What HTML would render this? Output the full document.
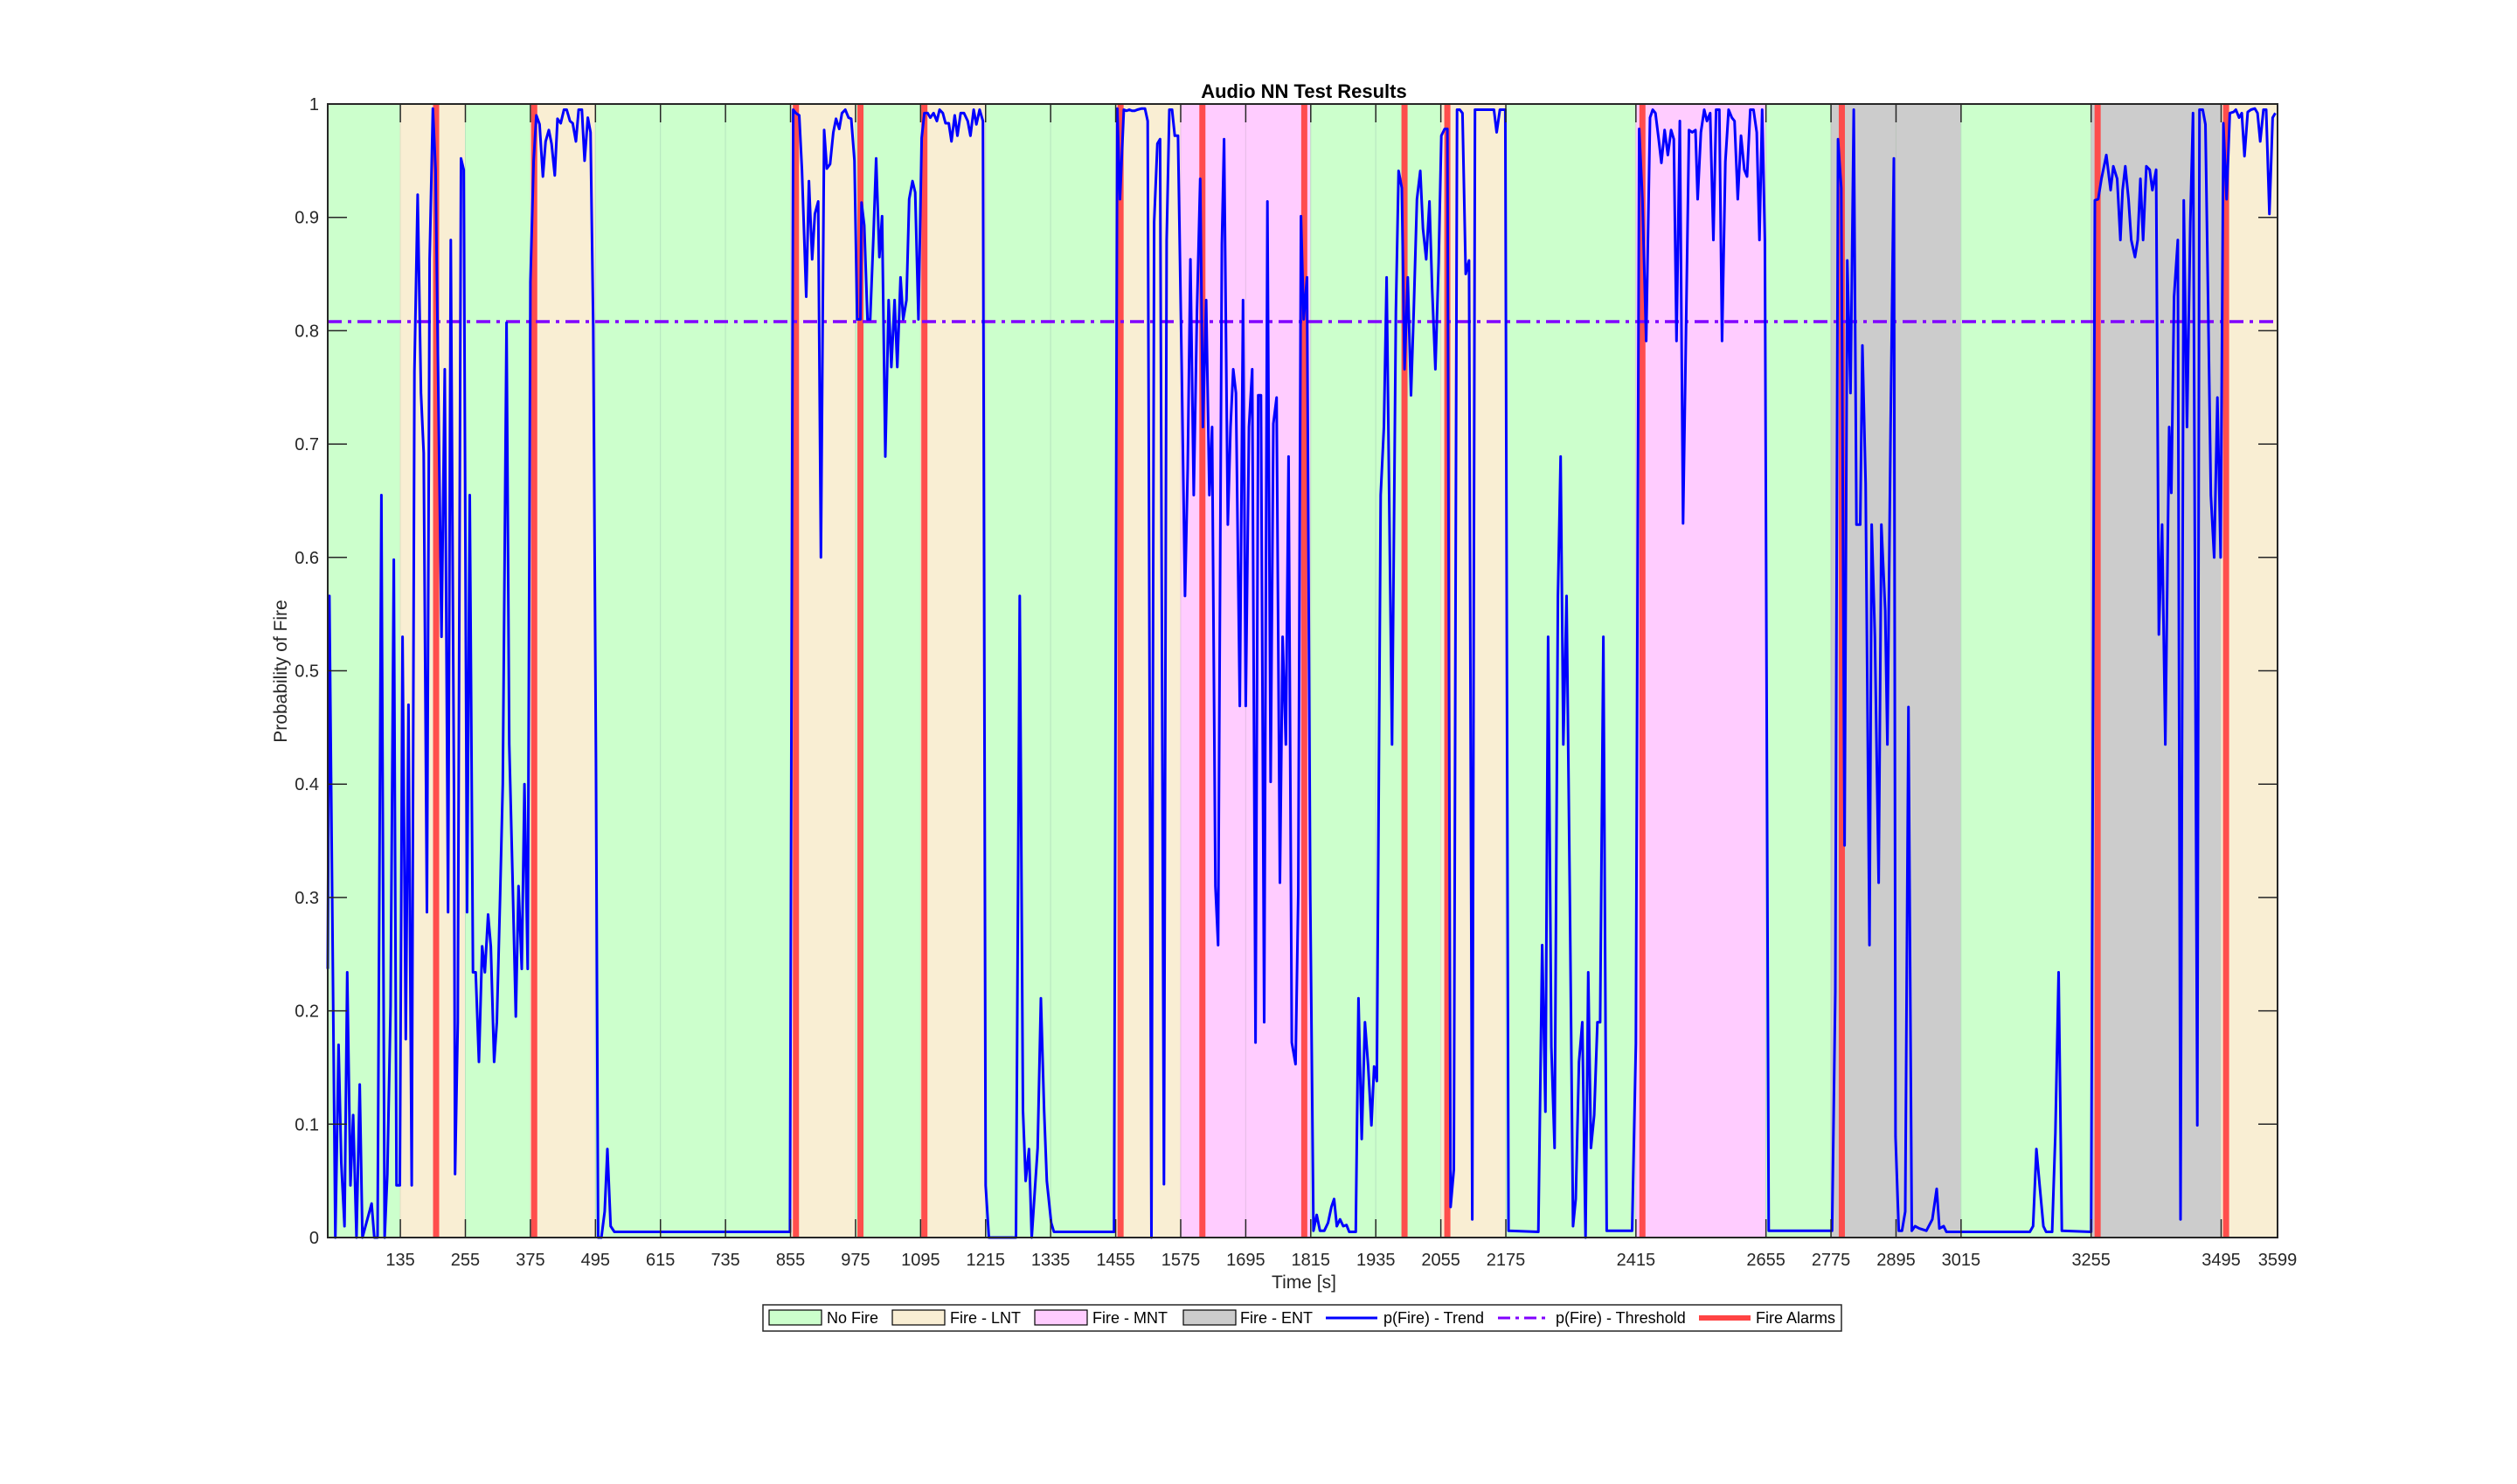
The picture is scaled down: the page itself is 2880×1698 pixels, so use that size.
<!DOCTYPE html>
<html><head><meta charset="utf-8">
<style>
html,body{margin:0;padding:0;background:#fff;}
svg{display:block;font-family:"Liberation Sans",Arial,sans-serif;}
</style></head>
<body>
<svg id="chart" width="2880" height="1698" viewBox="0 0 2880 1698" xmlns="http://www.w3.org/2000/svg">
<rect x="0" y="0" width="2880" height="1698" fill="#ffffff"/>
<g id="regions"></g>
<g id="alarms"></g>
<g id="threshold"></g>
<g id="trend"></g>
<g id="axes"></g>
<text x="1492" y="112" text-anchor="middle" font-size="22" font-weight="bold" fill="#000">Audio NN Test Results</text>
<text x="1492" y="1474" text-anchor="middle" font-size="21" fill="#262626">Time [s]</text>
<text transform="translate(328,768) rotate(-90)" text-anchor="middle" font-size="21" fill="#262626">Probability of Fire</text>
<g>
  <rect x="873" y="1493" width="1234" height="30" fill="#fff" stroke="#262626" stroke-width="1.5"/>
  <g>
    <rect x="880" y="1499" width="60" height="17" fill="#ccffcc" stroke="#000" stroke-width="1.2"/>
    <text x="946" y="1514" font-size="18" fill="#000">No Fire</text>
  </g>
  <g>
    <rect x="1021" y="1499" width="60" height="17" fill="#f9eed3" stroke="#000" stroke-width="1.2"/>
    <text x="1087" y="1514" font-size="18" fill="#000">Fire - LNT</text>
  </g>
  <g>
    <rect x="1184" y="1499" width="60" height="17" fill="#ffccff" stroke="#000" stroke-width="1.2"/>
    <text x="1250" y="1514" font-size="18" fill="#000">Fire - MNT</text>
  </g>
  <g>
    <rect x="1354" y="1499" width="60" height="17" fill="#cccccc" stroke="#000" stroke-width="1.2"/>
    <text x="1419" y="1514" font-size="18" fill="#000">Fire - ENT</text>
  </g>
  <g>
    <line x1="1517" y1="1508" x2="1576" y2="1508" stroke="#0000ff" stroke-width="3"/>
    <text x="1583" y="1514" font-size="18" fill="#000">p(Fire) - Trend</text>
  </g>
  <g>
    <line x1="1714" y1="1508" x2="1772" y2="1508" stroke="#8000ff" stroke-width="3" stroke-dasharray="14,6,4,6"/>
    <text x="1780" y="1514" font-size="18" fill="#000">p(Fire) - Threshold</text>
  </g>
  <g>
    <line x1="1944" y1="1508" x2="2003" y2="1508" stroke="#ff4444" stroke-width="6"/>
    <text x="2009" y="1514" font-size="18" fill="#000">Fire Alarms</text>
  </g>
</g>
</svg>
<script>
const regionStart = [1,135,255,375,495,615,735,855,975,1095,1215,1335,1455,1575,1695,1815,1935,2055,2175,2415,2655,2775,2895,3015,3255,3495];
const regionEnd   = [135,255,375,495,615,735,855,975,1095,1215,1335,1455,1575,1695,1815,1935,2055,2175,2415,2655,2775,2895,3015,3255,3495,3599];
const regionClass = ['No','LNT','No','LNT','No','No','No','LNT','No','LNT','No','No','LNT','MNT','MNT','No','No','LNT','No','MNT','No','ENT','ENT','No','ENT','LNT'];
const alarmTimes = [201,382,865,984,1102,1464,1615,1803,1988,2067,2427,2795,3267,3504];
const thresholdValue = 0.808;
const xTickLabels = [135,255,375,495,615,735,855,975,1095,1215,1335,1455,1575,1695,1815,1935,2055,2175,2415,2655,2775,2895,3015,3255,3495,3599];
const yTickLabels = [0,0.1,0.2,0.3,0.4,0.5,0.6,0.7,0.8,0.9,1];
const trendT = [1,4,15,21,26,32,37,43,48,54,60,65,82,87,93,100,106,111,117,123,128,134,139,145,150,156,161,167,173,178,184,189,195,200,206,211,217,223,228,234,236,241,247,252,258,263,269,274,280,286,291,297,302,308,313,319,324,331,336,342,348,353,359,364,370,375,381,386,392,398,403,409,414,420,425,431,437,442,448,453,459,464,470,475,481,486,491,496,500,506,512,517,523,530,854,860,865,871,876,884,889,895,900,906,911,917,922,928,934,939,945,950,956,962,967,973,978,984,986,991,997,1002,1008,1013,1019,1024,1030,1036,1041,1047,1052,1058,1063,1069,1074,1080,1085,1091,1097,1102,1108,1113,1119,1125,1130,1136,1141,1147,1152,1158,1163,1169,1175,1182,1187,1193,1198,1204,1210,1215,1221,1271,1278,1284,1289,1295,1300,1306,1311,1317,1323,1328,1336,1341,1452,1458,1463,1470,1475,1480,1485,1490,1495,1503,1509,1514,1521,1526,1532,1537,1544,1549,1554,1559,1564,1570,1577,1583,1588,1593,1599,1605,1611,1616,1622,1628,1633,1639,1644,1651,1655,1662,1667,1672,1677,1684,1690,1695,1701,1707,1713,1718,1723,1729,1735,1741,1746,1752,1758,1763,1769,1774,1780,1787,1792,1797,1802,1808,1814,1820,1826,1832,1840,1847,1853,1858,1863,1869,1875,1881,1886,1898,1903,1909,1915,1921,1927,1932,1937,1944,1950,1955,1965,1972,1977,1983,1988,1994,2000,2005,2011,2017,2022,2028,2034,2039,2045,2051,2056,2062,2067,2073,2079,2085,2090,2095,2101,2107,2113,2118,2153,2158,2164,2174,2180,2235,2242,2248,2253,2259,2265,2271,2276,2281,2287,2293,2299,2304,2310,2316,2322,2327,2332,2338,2344,2349,2355,2361,2408,2415,2421,2427,2434,2441,2446,2451,2457,2462,2468,2474,2480,2485,2490,2496,2502,2508,2513,2519,2525,2529,2535,2541,2546,2552,2558,2563,2569,2574,2580,2586,2592,2597,2603,2609,2615,2620,2626,2632,2638,2643,2648,2653,2660,2777,2783,2788,2794,2800,2805,2811,2817,2822,2829,2833,2839,2846,2850,2856,2863,2868,2875,2879,2885,2891,2894,2900,2906,2912,2918,2924,2930,2938,2951,2962,2970,2975,2983,2988,3142,3148,3154,3160,3167,3172,3183,3189,3195,3201,3255,3262,3268,3274,3283,3291,3296,3303,3309,3313,3318,3324,3329,3336,3341,3346,3351,3357,3363,3368,3375,3380,3386,3392,3399,3403,3408,3415,3420,3426,3432,3438,3443,3451,3455,3461,3466,3471,3476,3482,3488,3494,3499,3505,3511,3518,3522,3528,3533,3538,3544,3550,3557,3562,3567,3573,3578,3584,3590,3595];
const trendP = [0.237,0.566,0.0,0.17,0.066,0.01,0.234,0.046,0.108,0.0,0.135,0.0,0.03,0.0,0.0,0.655,0.0,0.056,0.204,0.598,0.046,0.046,0.53,0.175,0.47,0.046,0.764,0.92,0.745,0.692,0.287,0.863,0.996,0.942,0.712,0.53,0.766,0.287,0.88,0.389,0.056,0.19,0.952,0.942,0.287,0.655,0.234,0.234,0.155,0.257,0.234,0.285,0.257,0.155,0.19,0.30,0.40,0.807,0.435,0.32,0.195,0.31,0.237,0.40,0.237,0.843,0.95,0.99,0.982,0.936,0.967,0.977,0.965,0.937,0.987,0.983,0.995,0.995,0.985,0.983,0.967,0.995,0.995,0.95,0.988,0.975,0.804,0.422,0.0,0.0,0.023,0.078,0.01,0.005,0.005,0.995,0.992,0.99,0.942,0.83,0.932,0.863,0.903,0.914,0.6,0.977,0.943,0.947,0.975,0.987,0.978,0.992,0.995,0.988,0.987,0.95,0.81,0.81,0.913,0.893,0.81,0.81,0.883,0.952,0.865,0.901,0.689,0.827,0.768,0.827,0.768,0.847,0.81,0.827,0.916,0.932,0.922,0.81,0.97,0.992,0.992,0.988,0.992,0.985,0.995,0.992,0.983,0.983,0.967,0.99,0.972,0.992,0.992,0.985,0.972,0.995,0.982,0.995,0.985,0.046,0.0,0.0,0.566,0.112,0.05,0.078,0.0,0.043,0.079,0.211,0.112,0.05,0.013,0.005,0.005,0.996,0.916,0.995,0.994,0.995,0.994,0.994,0.995,0.996,0.996,0.985,0.0,0.896,0.965,0.969,0.047,0.88,0.995,0.995,0.972,0.972,0.764,0.566,0.679,0.863,0.655,0.817,0.934,0.715,0.827,0.655,0.715,0.31,0.258,0.876,0.969,0.629,0.715,0.766,0.745,0.469,0.827,0.469,0.715,0.766,0.172,0.743,0.743,0.19,0.914,0.402,0.718,0.741,0.313,0.53,0.435,0.689,0.172,0.153,0.303,0.901,0.81,0.847,0.303,0.006,0.02,0.006,0.006,0.013,0.027,0.034,0.01,0.016,0.01,0.011,0.005,0.005,0.211,0.087,0.19,0.151,0.099,0.151,0.138,0.655,0.715,0.847,0.435,0.817,0.941,0.926,0.766,0.847,0.743,0.817,0.916,0.941,0.89,0.863,0.914,0.837,0.766,0.86,0.972,0.978,0.978,0.027,0.06,0.995,0.995,0.992,0.85,0.862,0.016,0.995,0.995,0.975,0.995,0.995,0.006,0.005,0.258,0.111,0.53,0.168,0.079,0.566,0.689,0.435,0.566,0.303,0.01,0.034,0.155,0.19,0.0,0.234,0.079,0.108,0.19,0.19,0.53,0.006,0.006,0.171,0.978,0.916,0.791,0.988,0.995,0.992,0.969,0.948,0.977,0.955,0.977,0.969,0.791,0.985,0.63,0.817,0.977,0.975,0.977,0.916,0.975,0.995,0.985,0.992,0.88,0.995,0.995,0.791,0.949,0.995,0.988,0.985,0.916,0.972,0.942,0.936,0.995,0.995,0.975,0.88,0.995,0.88,0.006,0.006,0.217,0.969,0.926,0.346,0.862,0.745,0.995,0.629,0.629,0.787,0.665,0.258,0.629,0.53,0.313,0.629,0.553,0.435,0.718,0.952,0.089,0.006,0.006,0.023,0.468,0.006,0.01,0.008,0.006,0.016,0.043,0.008,0.01,0.005,0.005,0.01,0.078,0.046,0.01,0.005,0.005,0.092,0.234,0.006,0.005,0.915,0.916,0.934,0.955,0.924,0.945,0.934,0.88,0.924,0.945,0.916,0.88,0.865,0.88,0.934,0.88,0.945,0.942,0.924,0.942,0.532,0.629,0.435,0.715,0.657,0.83,0.88,0.016,0.915,0.715,0.896,0.992,0.099,0.995,0.995,0.982,0.824,0.655,0.6,0.741,0.6,0.983,0.916,0.992,0.993,0.995,0.988,0.992,0.954,0.993,0.995,0.996,0.992,0.967,0.995,0.995,0.903,0.988,0.992];

const NS = 'http://www.w3.org/2000/svg';
const PL = 375, PR = 2606, PT = 119, PB = 1416;
const XMIN = 1, XMAX = 3599;
function xs(t){ return PL + (t - XMIN) / (XMAX - XMIN) * (PR - PL); }
function ys(p){ return PB - p * (PB - PT); }
function mk(tag, attrs, parent){
  const e = document.createElementNS(NS, tag);
  for (const k in attrs) e.setAttribute(k, attrs[k]);
  parent.appendChild(e);
  return e;
}
const fills = {No:'#ccffcc', LNT:'#f9eed3', MNT:'#ffccff', ENT:'#cccccc'};
const edges = {No:'#b8e6c0', LNT:'#e6dcc4', MNT:'#e8bde8', ENT:'#bcc4bc'};

const gR = document.getElementById('regions');
for (let i = 0; i < regionStart.length; i++) {
  const x0 = xs(regionStart[i]), x1 = xs(regionEnd[i]);
  const r = mk('rect', {x:x0, y:PT, width:x1-x0, height:PB-PT, fill:fills[regionClass[i]], stroke:edges[regionClass[i]], 'stroke-width':1}, gR);
  
  
}

const gA = document.getElementById('alarms');
for (let i = 0; i < alarmTimes.length; i++) {
  const x = xs(alarmTimes[i]);
  const l = mk('line', {x1:x, y1:PT, x2:x, y2:PB, stroke:'#ff4444', 'stroke-width':7, 'stroke-opacity':0.95}, gA);
  
  
}

const gT = document.getElementById('threshold');
const th = mk('line', {x1:PL, y1:ys(thresholdValue), x2:PR, y2:ys(thresholdValue), stroke:'#8000ff', 'stroke-width':3.5, 'stroke-dasharray':'16,7,4,7'}, gT);



const gL = document.getElementById('trend');
let d = '';
for (let i = 0; i < trendT.length; i++) d += (i ? 'L' : 'M') + xs(trendT[i]).toFixed(1) + ',' + ys(trendP[i]).toFixed(1);
const tp = mk('path', {d:d, fill:'none', stroke:'#0000ff', 'stroke-width':3, 'stroke-linejoin':'round'}, gL);



const gX = document.getElementById('axes');
const box = mk('rect', {x:PL, y:PT, width:PR-PL, height:PB-PT, fill:'none', stroke:'#262626', 'stroke-width':2}, gX);


for (const v of xTickLabels) {
  const x = xs(v);
  mk('line', {x1:x, y1:PB, x2:x, y2:PB-21, stroke:'#262626', 'stroke-width':1.5}, gX);
  mk('line', {x1:x, y1:PT, x2:x, y2:PT+21, stroke:'#262626', 'stroke-width':1.5}, gX);
  const t = mk('text', {x:x, y:PB+32, 'text-anchor':'middle', 'font-size':20, fill:'#262626'}, gX);
  
  
  t.textContent = String(v);
}
for (const v of yTickLabels) {
  const y = ys(v);
  mk('line', {x1:PL, y1:y, x2:PL+22, y2:y, stroke:'#262626', 'stroke-width':1.5}, gX);
  mk('line', {x1:PR, y1:y, x2:PR-22, y2:y, stroke:'#262626', 'stroke-width':1.5}, gX);
  const t = mk('text', {x:PL-10, y:y+7, 'text-anchor':'end', 'font-size':20, fill:'#262626'}, gX);
  
  
  t.textContent = String(v);
}
</script>
</body></html>
